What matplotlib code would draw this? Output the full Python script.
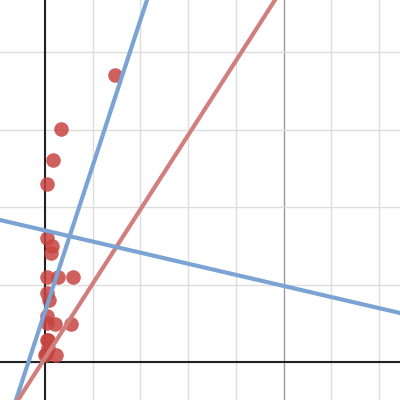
import matplotlib
matplotlib.use("Agg")
import matplotlib.pyplot as plt
import numpy as np

# data in grid units
px = [115,61,53,47,47,52,51,47,58,73,47,49,47,47,55,71,47,48,46,56,45,48]
py = [75,129,160,184,238,246,253,277,277,277,293,300,316,323,324,324,340,340,354,355,355,348]
xs = [(p-45)/47.7 for p in px]
ys = [(362-p)/77.5 for p in py]

def d(pxv, pyv): return ((pxv-45)/47.7, (362-pyv)/77.5)
lines = [  # (p1, p2, color)
    (d(16,400), d(147,0), '#7ba3d3'),
    (d(18,400), d(275,0), '#d07f7d'),
    (d(0,220), d(400,313), '#7ba3d3'),
]

fig = plt.figure(figsize=(4,4), dpi=100)
ax = fig.add_axes([0,0,1,1])
x0, x1 = -45/47.7, 355/47.7
y0, y1 = -38/77.5, 362/77.5
ax.set_xlim(x0, x1); ax.set_ylim(y0, y1)
for gx in range(0, 8):
    ax.axvline(gx, color='#999' if gx==5 else '#ddd', lw=1, zorder=0)
for gy in range(0, 5):
    ax.axhline(gy, color='#ddd', lw=1, zorder=0)
ax.axvline(0, color='#222', lw=1.5, zorder=1)
ax.axhline(0, color='#222', lw=1.5, zorder=1)
ax.scatter(xs, ys, s=110, color='#c74440', alpha=0.85, lw=0, zorder=3)
for p1, p2, c in lines:
    ax.axline(p1, p2, color=c, lw=3, zorder=4)
ax.set_xticks([]); ax.set_yticks([])
for s in ax.spines.values(): s.set_visible(False)
fig.savefig("out.png")
